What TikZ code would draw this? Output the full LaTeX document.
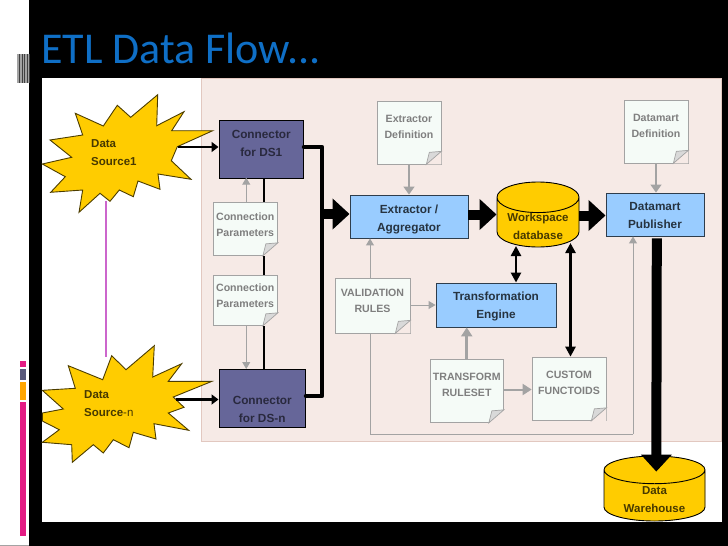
\documentclass[tikz,border=0pt]{standalone}
\usepackage{fontspec}
\setmainfont{Liberation Sans}
\newfontfamily\titlefont{Carlito}
\usetikzlibrary{arrows.meta,shapes.geometric,calc}
\definecolor{panelc}{HTML}{F6EAE6}
\definecolor{panelb}{HTML}{E2C8C0}
\definecolor{burstc}{HTML}{FFCC00}
\definecolor{connc}{HTML}{666699}
\definecolor{blueb}{HTML}{99CCFF}
\definecolor{notec}{HTML}{F5FBF7}
\definecolor{greyl}{HTML}{A3A3A3}
\definecolor{noteg}{HTML}{7F7F7F}
\definecolor{titlec}{HTML}{0F6FC6}
\definecolor{magl}{HTML}{CC66CC}
\definecolor{pinkb}{HTML}{E41C84}
\pgfdeclarelayer{bg}\pgfdeclarelayer{conn}
\pgfsetlayers{bg,conn,main}
% raised two-line text that takes no vertical room
\newcommand{\shiftedtext}[2]{\raisebox{#1}[0pt][0pt]{\begin{tabular}{@{}c@{}}#2\end{tabular}}}
\newcommand{\notebox}[7]{%
  \node[noteshape,minimum width=#4pt,minimum height=#5pt] (#1) at (#2,#3) {\shiftedtext{#6}{#7}};
  \fill[panelc] (#1.south east) -- ([shift={(0pt,13pt)}]#1.south east) -- ([shift={(-15pt,0pt)}]#1.south east) -- cycle;
  \filldraw[fill=black!15,draw=greyl,line width=.7pt] ([shift={(0pt,13pt)}]#1.south east) -- ([shift={(-12pt,12pt)}]#1.south east) -- ([shift={(-15pt,0pt)}]#1.south east) -- cycle;
}
\tikzset{
  noteshape/.style={draw=greyl,line width=.7pt,fill=notec,inner sep=0pt,text=noteg,font=\bfseries\fontsize{10.6}{16}\selectfont},
  connbox/.style={draw=black,line width=1pt,fill=connc,inner sep=0pt,text=black!55!connc!90!black,font=\bfseries\fontsize{11.8}{18}\selectfont},
  bluebox/.style={draw=black!70!blueb,line width=.9pt,fill=blueb,inner sep=0pt,text=black!75!blueb,font=\bfseries\fontsize{11.8}{18.3}\selectfont},
  dbshape/.style={cylinder,shape border rotate=90,anchor=shape center,draw=black,line width=.9pt,fill=burstc,cylinder uses custom fill,cylinder body fill=burstc,cylinder end fill=burstc,inner sep=0pt,text=black!72!burstc,font=\bfseries\fontsize{11.5}{18}\selectfont},
  burst/.style={draw=black!70!burstc,line width=.9pt,fill=burstc},
  burstlabel/.style={inner sep=0pt,align=left,anchor=west,text=black!72!burstc,font=\bfseries\fontsize{11.5}{18}\selectfont},
  bigarrow/.style={line width=10pt,-{Triangle[length=17pt,width=30pt]}},
  blackarrow/.style={line width=2.6pt,-{Triangle[length=7pt,width=10pt]}},
  blackdouble/.style={line width=2.6pt,{Triangle[length=10pt,width=10pt]}-{Triangle[length=10pt,width=10pt]}},
  greythin/.style={draw=greyl,line width=1pt,-{Triangle[length=7pt,width=8pt]}},
  greyarrow/.style={draw=greyl,line width=1.4pt,-{Triangle[length=8pt,width=11pt]}},
  greythick/.style={draw=greyl,line width=3pt,-{Triangle[length=9pt,width=11pt]}},
}
\begin{document}
\begin{tikzpicture}[x=1pt,y=-1pt]
\useasboundingbox (0,0) rectangle (728,546);
\begin{pgfonlayer}{bg}
  \fill[white] (0,0) rectangle (728,546);
  \fill[black] (29,0) rectangle (728,546);
  \fill[white] (42,78) rectangle (722,522);
  \filldraw[fill=panelc,draw=panelb,line width=.7pt] (201.5,78) rectangle (721,441);
  % left-hand decoration
  \fill[greyl] (17,54) rectangle (29,83);
  \foreach \sx in {19,21.5,24,26.5,28.5} \fill[black!75] (\sx,54) rectangle +(1,29);
  \fill[pinkb] (20,361) rectangle (26,367);
  \fill[black!55!blue!30!gray] (20,369) rectangle (26,380);
  \fill[orange!70!yellow] (20,382) rectangle (26,400);
  \fill[pinkb] (20,402) rectangle (26,536);
  \fill[greyl] (0,545) rectangle (29,546);
  \draw[magl,line width=1.6pt] (106,201) -- (106,357);
\end{pgfonlayer}

\node[inner sep=0pt,anchor=base west,text=titlec,font=\titlefont\fontsize{44}{44}\selectfont] (title) at (41,63) {ETL Data Flow...};

% source bursts
\draw[burst] (42.3,164) -- (71.7,157.3) -- (50,140) -- (82.7,135) -- (75.3,113.3) -- (103.3,126) -- (117.3,105.3) -- (130.7,117.3) -- (157.7,94.7) -- (156.7,125.7) -- (184,111.7) -- (171.7,130.7) -- (212.7,130.7) -- (177.3,146.7) -- (171.3,160.7) -- (191,179.3) -- (158,174) -- (160,189.3) -- (138,181) -- (133.3,196.7) -- (119.3,190) -- (110,201.3) -- (100,193.3) -- (79,212.3) -- (82.7,190) -- (50.7,192.3) -- (65.3,176.7) -- cycle;
\draw[burst] (42.3,390.3) -- (75.3,388.3) -- (68.3,365.7) -- (102.7,379.7) -- (111.7,355.7) -- (126,369.7) -- (154.3,345.7) -- (152.7,377) -- (181.7,363.7) -- (168.3,381.3) -- (212,381.3) -- (173.3,397) -- (184,407.3) -- (168.3,413) -- (188.7,430.3) -- (154,423.7) -- (156,439) -- (133.3,432.3) -- (129,447.7) -- (113.3,439.7) -- (103.3,453) -- (93.3,444.7) -- (72.3,462.3) -- (71.7,444.7) -- (42.3,442.3) -- (59.3,429.7) -- (42.3,421) -- (42.3,413) -- (63.3,409) -- cycle;
\node[burstlabel] (src1) at (91,153) {Data\\Source1};
\node[burstlabel] (srcn) at (84,404) {Data\\Source{\mdseries -n}};
\coordinate (src1out) at (178,147);
\coordinate (srcnout) at (176,399.5);

% connectors boxes
\node[connbox,minimum width=84.5pt,minimum height=57.5pt] (ds1) at (261.25,149.25) {\shiftedtext{2pt}{Connector\\for DS1}};
\node[connbox,minimum width=86.5pt,minimum height=58pt] (dsn) at (262.25,398.5) {\shiftedtext{-14.5pt}{Connector\\for DS-n}};

% process boxes
\node[bluebox,minimum width=118pt,minimum height=43pt] (extr) at (409,216.5) {\shiftedtext{-5pt}{Extractor /\\Aggregator}};
\node[bluebox,minimum width=120pt,minimum height=44pt] (trans) at (496,305) {\shiftedtext{-4pt}{Transformation\\Engine}};
\node[bluebox,minimum width=98pt,minimum height=43pt] (pub) at (655,214.5) {\shiftedtext{-4.5pt}{Datamart\\Publisher}};

% databases
\node[dbshape,minimum width=82pt,minimum height=65pt,aspect=.5] (ws) at (538,214.5) {\shiftedtext{-7.5pt}{Workspace\\database}};
\node[dbshape,minimum width=101pt,minimum height=65pt,aspect=.45] (dw) at (654.5,488.5) {\shiftedtext{-7.5pt}{Data\\Warehouse}};

% notes
\notebox{cp1}{245.25}{228.75}{64.5}{53.5}{1pt}{Connection\\Parameters}
\notebox{cp2}{245.25}{300.5}{64.5}{50}{1.5pt}{Connection\\Parameters}
\notebox{exd}{409}{132.5}{64}{63}{2.5pt}{Extractor\\Definition}
\notebox{dmd}{656}{131.5}{64}{63}{2.5pt}{Datamart\\Definition}
\notebox{val}{372.5}{305.5}{75}{55}{1.5pt}{VALIDATION\\RULES}
\notebox{rule}{466.75}{390.75}{73.5}{63.5}{3pt}{TRANSFORM\\RULESET}
\notebox{cust}{569}{388.75}{74}{63.5}{2.7pt}{CUSTOM\\FUNCTOIDS}

% thin line behind the notes
\begin{pgfonlayer}{conn}
  \draw[black,line width=2.4pt] ([xshift=2.75pt]ds1.south) -- ([xshift=1.75pt]dsn.north);
  \draw[greyl,line width=1pt] ([xshift=-2.5pt]val.south) |- (633,434) coordinate (routec);
\end{pgfonlayer}

% black connectors
\draw[blackarrow] (src1out) -- (ds1.west |- src1out);
\draw[blackarrow] (srcnout) -- (dsn.west |- srcnout);
\coordinate (bus1) at (322,147);
\coordinate (busn) at (322,396);
\draw[line width=4.5pt,line join=round,line cap=round] (ds1.east |- bus1) -- (bus1) -- (busn) -- (dsn.east |- busn);
\draw[bigarrow] (322,214) -- (extr.west |- 0,214);
\draw[bigarrow] (extr.east |- 0,214.5) -- (ws.west |- 0,214.5);
\draw[bigarrow] (ws.east |- 0,215.5) -- (pub.west |- 0,215.5);
\draw[bigarrow] ($(pub.south)+(1.8pt,-2pt)$) -- ($(dw.north)+(1.8pt,-16pt)$);
\draw[blackdouble] (516,246) -- (trans.north -| 516,0);
\draw[blackdouble] (570.5,243) -- (cust.north -| 570.5,0);

% grey connectors
\draw[greyarrow] (exd.south) -- (extr.north -| exd.south);
\draw[greyarrow] (dmd.south) -- (pub.north -| dmd.south);
\draw[greythin] ([xshift=1pt]cp1.north |- cp1.north) ++(0,0) -- ++(0,-24);
\draw[greythin] ([xshift=1pt]cp2.south) -- ([xshift=1pt]cp2.south |- dsn.north);
\draw[greythin] ([xshift=-2.5pt]val.north) -- ([xshift=-2.5pt]val.north |- extr.south);
\draw[greythin] (routec) -- (routec |- pub.south);
\draw[greythin] (val.east |- 0,305) -- (trans.west |- 0,305);
\draw[greythick] (rule.north) -- (rule.north |- trans.south);
\draw[greythick,line width=2pt] (rule.east |- 0,389.5) -- (cust.west |- 0,389.5);
\end{tikzpicture}
\end{document}
